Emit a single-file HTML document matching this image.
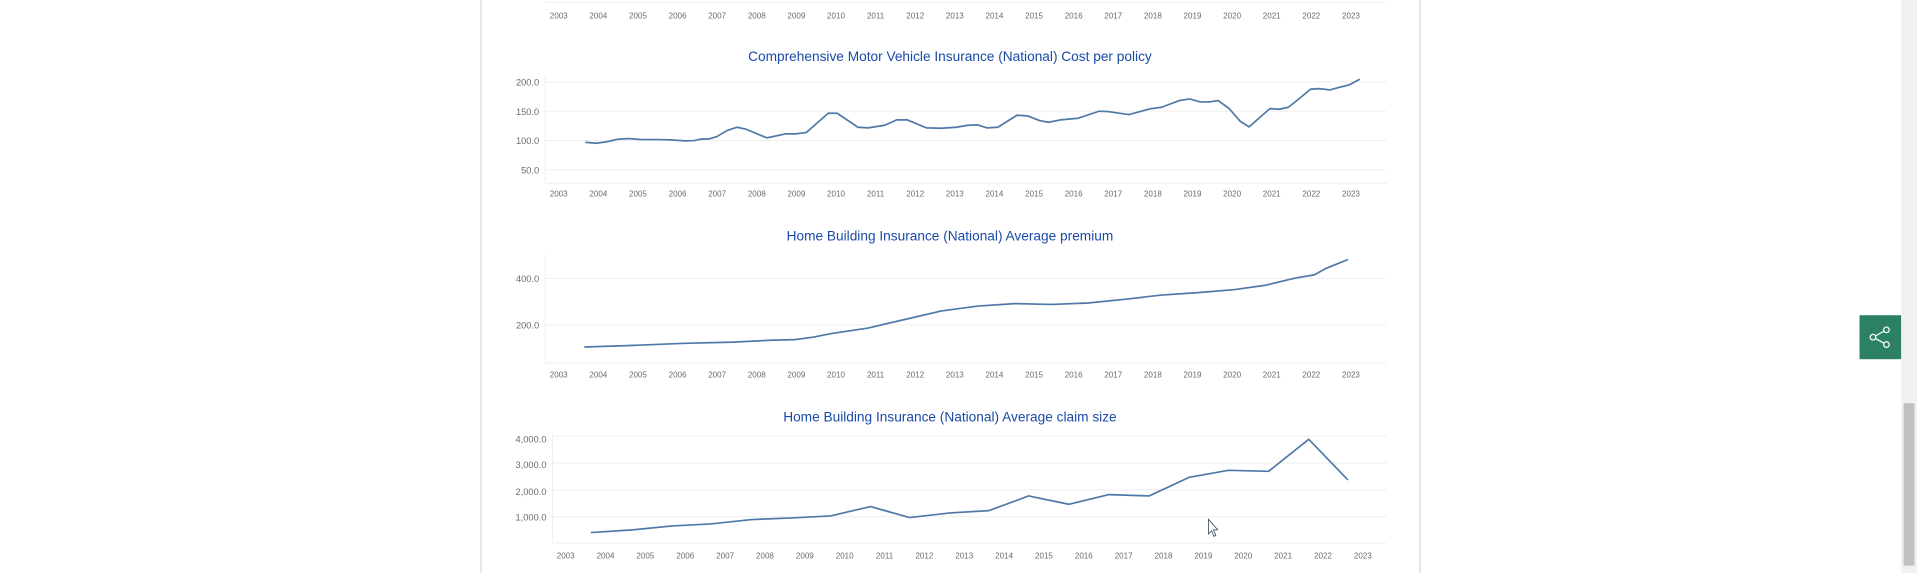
<!DOCTYPE html>
<html><head><meta charset="utf-8"><style>
html,body{margin:0;padding:0;background:#fff;width:1917px;height:573px;overflow:hidden}
svg{display:block}
text{font-family:"Liberation Sans",sans-serif}
.t{fill:#1a4aa6;font-size:11.2px;text-anchor:middle}
.yl{fill:#6b6b6b;font-size:7.6px;text-anchor:end}
.xl{fill:#6b6b6b;font-size:6.6px;text-anchor:middle}
.g{stroke:#eeeeee;stroke-width:0.8}
.ln{fill:none;stroke:#4e79a7;stroke-width:1.7;stroke-linejoin:round;vector-effect:non-scaling-stroke}
</style></head><body>
<svg width="1917" height="573" viewBox="0 0 1568 469" preserveAspectRatio="none">
<rect width="1568" height="469" fill="#fff"/>
<line x1="393.5" y1="0" x2="393.5" y2="469" stroke="#d4d4dc" stroke-width="0.9"/>
<line x1="1161.5" y1="0" x2="1161.5" y2="469" stroke="#d4d4dc" stroke-width="0.9"/>
<rect x="1555" y="0" width="13" height="469" fill="#f1f1f1"/>
<rect x="1557" y="330" width="9" height="133" fill="#c1c1c1"/>
<rect x="1521" y="258" width="34" height="36" fill="#2c8163"/>
<g fill="none" stroke="#fff" stroke-width="1">
<circle cx="1532" cy="276" r="2.3"/><circle cx="1543" cy="270" r="2.3"/><circle cx="1543" cy="282" r="2.3"/>
<line x1="1534" y1="275" x2="1541" y2="271"/><line x1="1534" y1="277" x2="1541" y2="281"/>
</g>

<line x1="446" y1="2" x2="1134" y2="2" class="g"/>
<g class="xl">
<text x="457" y="15">2003</text><text x="489.4" y="15">2004</text><text x="521.8" y="15">2005</text><text x="554.2" y="15">2006</text><text x="586.6" y="15">2007</text><text x="619" y="15">2008</text><text x="651.4" y="15">2009</text><text x="683.8" y="15">2010</text><text x="716.2" y="15">2011</text><text x="748.6" y="15">2012</text><text x="781" y="15">2013</text><text x="813.4" y="15">2014</text><text x="845.8" y="15">2015</text><text x="878.2" y="15">2016</text><text x="910.6" y="15">2017</text><text x="943" y="15">2018</text><text x="975.4" y="15">2019</text><text x="1007.8" y="15">2020</text><text x="1040.2" y="15">2021</text><text x="1072.6" y="15">2022</text><text x="1105" y="15">2023</text>
</g>

<text class="t" x="777" y="50">Comprehensive Motor Vehicle Insurance (National) Cost per policy</text>
<line x1="446" y1="62" x2="446" y2="150" class="g"/>
<line x1="446" y1="67" x2="1134" y2="67" class="g"/>
<line x1="446" y1="91" x2="1134" y2="91" class="g"/>
<line x1="446" y1="115" x2="1134" y2="115" class="g"/>
<line x1="446" y1="139" x2="1134" y2="139" class="g"/>
<line x1="446" y1="150" x2="1134" y2="150" class="g"/>
<g class="yl"><text x="441" y="70">200.0</text><text x="441" y="94">150.0</text><text x="441" y="118">100.0</text><text x="441" y="142">50.0</text></g>
<g transform="translate(392.6,32.72) scale(0.4869,0.2726)">
<polyline class="ln" points="177,307 195,310 212,306 232,298 250,296 270,299 300,299 320,300 345,303 360,302 370,298 385,297 398,290 415,272 432,262 447,268 482,294 513,282 530,282 548,278 585,220 600,220 635,262 652,264 680,256 700,240 718,240 750,264 775,265 800,262 820,256 836,255 852,264 870,262 902,226 920,228 940,242 955,247 975,240 1005,235 1040,214 1055,215 1090,224 1125,207 1145,202 1175,182 1192,177 1210,186 1225,186 1240,182 1258,205 1277,244 1292,261 1327,206 1343,208 1358,202 1375,178 1395,148 1410,146 1428,150 1442,143 1460,135 1478,118"/>
</g>
<g class="xl">
<text x="457" y="161">2003</text><text x="489.4" y="161">2004</text><text x="521.8" y="161">2005</text><text x="554.2" y="161">2006</text><text x="586.6" y="161">2007</text><text x="619" y="161">2008</text><text x="651.4" y="161">2009</text><text x="683.8" y="161">2010</text><text x="716.2" y="161">2011</text><text x="748.6" y="161">2012</text><text x="781" y="161">2013</text><text x="813.4" y="161">2014</text><text x="845.8" y="161">2015</text><text x="878.2" y="161">2016</text><text x="910.6" y="161">2017</text><text x="943" y="161">2018</text><text x="975.4" y="161">2019</text><text x="1007.8" y="161">2020</text><text x="1040.2" y="161">2021</text><text x="1072.6" y="161">2022</text><text x="1105" y="161">2023</text>
</g>

<text class="t" x="777" y="197">Home Building Insurance (National) Average premium</text>
<line x1="446" y1="208" x2="446" y2="297" class="g"/>
<line x1="446" y1="228" x2="1134" y2="228" class="g"/>
<line x1="446" y1="266" x2="1134" y2="266" class="g"/>
<line x1="446" y1="297" x2="1134" y2="297" class="g"/>
<g class="yl"><text x="441" y="231">400.0</text><text x="441" y="269">200.0</text></g>
<polyline class="ln" points="478,284 510,283 560,281 600,280 630,278.5 650,278 665,276 680,273 710,268.5 740,261.5 770,254.5 800,250.5 830,248.5 860,249.2 890,248 920,245 950,241.5 980,239.5 1010,237 1035,233.5 1060,227.5 1075,225 1085,219.5 1102.6,212.4"/>
<g class="xl">
<text x="457" y="309">2003</text><text x="489.4" y="309">2004</text><text x="521.8" y="309">2005</text><text x="554.2" y="309">2006</text><text x="586.6" y="309">2007</text><text x="619" y="309">2008</text><text x="651.4" y="309">2009</text><text x="683.8" y="309">2010</text><text x="716.2" y="309">2011</text><text x="748.6" y="309">2012</text><text x="781" y="309">2013</text><text x="813.4" y="309">2014</text><text x="845.8" y="309">2015</text><text x="878.2" y="309">2016</text><text x="910.6" y="309">2017</text><text x="943" y="309">2018</text><text x="975.4" y="309">2019</text><text x="1007.8" y="309">2020</text><text x="1040.2" y="309">2021</text><text x="1072.6" y="309">2022</text><text x="1105" y="309">2023</text>
</g>

<text class="t" x="777" y="345">Home Building Insurance (National) Average claim size</text>
<line x1="452" y1="355" x2="452" y2="444.5" class="g"/>
<line x1="452" y1="357.1" x2="1134" y2="357.1" class="g"/>
<line x1="452" y1="379" x2="1134" y2="379" class="g"/>
<line x1="452" y1="401" x2="1134" y2="401" class="g"/>
<line x1="452" y1="423" x2="1134" y2="423" class="g"/>
<line x1="452" y1="444.5" x2="1134" y2="444.5" class="g"/>
<g class="yl"><text x="447" y="362">4,000.0</text><text x="447" y="383">3,000.0</text><text x="447" y="405">2,000.0</text><text x="447" y="426">1,000.0</text></g>
<g transform="translate(441.7,343.5) scale(0.4382,0.2726)">
<polyline class="ln" points="95,339 172,331 247,319 318,313 395,300 470,295 542,289 617,261 690,294 765,280 838,273 912,229 987,254 1062,225 1137,229 1212,173 1285,152 1360,155 1435,59 1508,181"/>
</g>
<g class="xl">
<text x="462.7" y="457">2003</text><text x="495.3" y="457">2004</text><text x="527.9" y="457">2005</text><text x="560.5" y="457">2006</text><text x="593.1" y="457">2007</text><text x="625.7" y="457">2008</text><text x="658.3" y="457">2009</text><text x="690.9" y="457">2010</text><text x="723.5" y="457">2011</text><text x="756.1" y="457">2012</text><text x="788.7" y="457">2013</text><text x="821.3" y="457">2014</text><text x="853.9" y="457">2015</text><text x="886.5" y="457">2016</text><text x="919.1" y="457">2017</text><text x="951.7" y="457">2018</text><text x="984.3" y="457">2019</text><text x="1016.9" y="457">2020</text><text x="1049.5" y="457">2021</text><text x="1082.1" y="457">2022</text><text x="1114.7" y="457">2023</text>
</g>
<path d="M988.5,425 L988.5,437 L991,434.5 L993,439 L994.5,438.3 L992.6,433.8 L996,433.6 Z" fill="#fff" stroke="#234" stroke-width="0.6"/>
</svg>
</body></html>
